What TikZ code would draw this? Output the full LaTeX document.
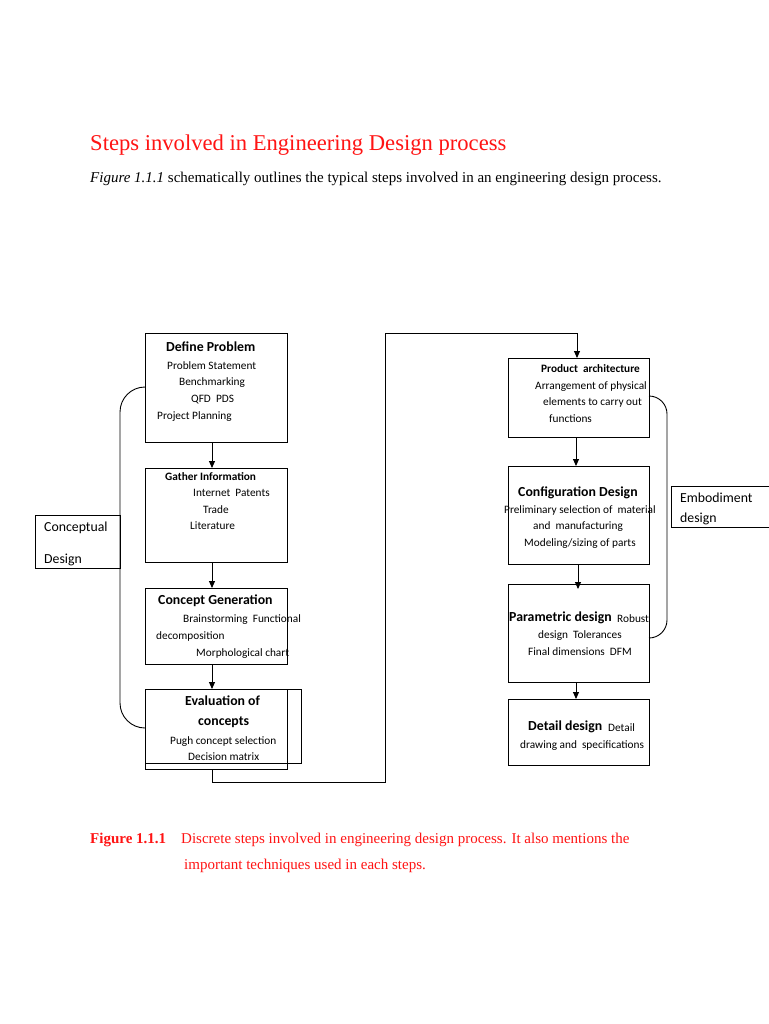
\documentclass[tikz,border=0pt]{standalone}
\usepackage{fontspec}
\setmainfont{Liberation Serif}
\newfontfamily\calf{Carlito}
\usetikzlibrary{arrows.meta}
\definecolor{capred}{RGB}{255,20,20}
\begin{document}
\begin{tikzpicture}[x=1pt,y=-1pt,
  box/.style={draw, line width=0.9pt, inner sep=0pt, anchor=north west},
  tx/.style={font=\calf\fontsize{11.3}{13}\selectfont, inner sep=0pt, anchor=west, text height=8pt, text depth=2pt},
  hd/.style={tx, font=\calf\bfseries\fontsize{13.8}{16}\selectfont, text height=9.8pt, text depth=2.8pt},
  hds/.style={tx, font=\calf\bfseries\fontsize{11.3}{13}\selectfont, text height=8pt, text depth=2pt},
  lab/.style={tx, font=\calf\fontsize{13.8}{16}\selectfont, text height=9.8pt, text depth=3pt},
  arr/.style={line width=0.9pt, -{Triangle[length=7pt,width=6pt]}},
  ln/.style={line width=0.9pt},
  serif/.style={inner sep=0pt, anchor=base west}]
\useasboundingbox[fill=white] (0,0) rectangle (768,1024);

% title and text
\node[serif, text=capred, font=\fontsize{22.6}{26}\selectfont] (title) at (90,151) {Steps involved in Engineering Design process};
\node[serif, font=\fontsize{15}{18}\selectfont] (intro) at (90,183) {\textit{Figure 1.1.1} schematically outlines the typical steps involved in an engineering design process.};
\node[serif, text=capred, font=\fontsize{15}{18}\selectfont\bfseries] (capA) at (90,843) {Figure 1.1.1};
\node[serif, text=capred, font=\fontsize{15}{18}\selectfont] (capB) at (181,843) {Discrete steps involved in engineering design process. It also mentions the};
\node[serif, text=capred, font=\fontsize{15}{18}\selectfont] (capC) at (184,869) {important techniques used in each steps.};

% left column boxes
\node[box, minimum width=142, minimum height=109] (dp) at (145,333) {};
\node[box, minimum width=142, minimum height=94] (gi) at (145,468) {};
\node[box, minimum width=142, minimum height=76] (cg) at (145,588) {};
\node[box, minimum width=142, minimum height=80] (ev) at (145,689) {};
\node[box, minimum width=156, minimum height=74] (ev2) at (145,689) {};

% right column boxes
\node[box, minimum width=141, minimum height=79] (pa) at (508,358) {};
\node[box, minimum width=141, minimum height=98] (cd) at (508,466) {};
\node[box, minimum width=141, minimum height=98] (pd) at (508,584) {};
\node[box, minimum width=141, minimum height=66] (dd) at (508,699) {};

% side labels
\node[box, minimum width=85, minimum height=53] (cbox) at (35,515) {};
\node[lab] (c1) at (44,528) {Conceptual};
\node[lab] (c2) at (44,560) {Design};
\draw[ln] (775,486) -- (671,486) -- (671,527) -- (775,527);
\node[lab] (e1) at (680,499) {Embodiment};
\node[lab] (e2) at (680,519) {design};

% texts: define problem
\node[hd] (t1) at (166,348) {Define Problem};
\node[tx] (t2) at (167,366) {Problem Statement};
\node[tx] (t3) at (179,382) {Benchmarking};
\node[tx] (t4) at (191,399) {QFD\ \ PDS};
\node[tx] (t5) at (157,416) {Project Planning};
% gather information
\node[hds] (g1) at (165,477) {Gather Information};
\node[tx] (g2) at (193,493) {Internet\ \ Patents};
\node[tx] (g3) at (203,510) {Trade};
\node[tx] (g4) at (190,526) {Literature};
% concept generation
\node[hd] (k1) at (158,601) {Concept Generation};
\node[tx] (k2) at (183,619) {Brainstorming\ \ Functional};
\node[tx] (k3) at (156,636) {decomposition};
\node[tx] (k4) at (196,653) {Morphological chart};
% evaluation
\node[hd] (v1) at (185,702) {Evaluation of};
\node[hd] (v2) at (198,722) {concepts};
\node[tx] (v3) at (170,741) {Pugh concept selection};
\node[tx] (v4) at (188,757) {Decision matrix};
% product architecture
\node[hds] (p1) at (541,369) {Product\ \ architecture};
\node[tx] (p2) at (535,386) {Arrangement of physical};
\node[tx] (p3) at (543,402) {elements to carry out};
\node[tx] (p4) at (549,419) {functions};
% configuration design
\node[hd] (f1) at (518,493) {Configuration Design};
\node[tx] (f2) at (504,510) {Preliminary selection of\ \ material};
\node[tx] (f3) at (533,526) {and\ \ manufacturing};
\node[tx] (f4) at (524,543) {Modeling/sizing of parts};
% parametric design
\node[hd] (m1) at (509,618) {Parametric design};
\node[tx] (m1b) at (617,619) {Robust};
\node[tx] (m2) at (538,635) {design\ \ Tolerances};
\node[tx] (m3) at (528,652) {Final dimensions\ \ DFM};
% detail design
\node[hd] (d1) at (528,727) {Detail design};
\node[tx] (d1b) at (608,728) {Detail};
\node[tx] (d2) at (520,745) {drawing and\ \ specifications};

% arrows
\draw[arr] (212,0 |- dp.south) -- (212,0 |- gi.north);
\draw[arr] (212,0 |- gi.south) -- (212,0 |- cg.north);
\draw[arr] (212,0 |- cg.south) -- (212,0 |- ev.north);
\draw[arr] (576,0 |- pa.south) -- (576,0 |- cd.north);
\draw[arr] (578,0 |- cd.south) -- (578,589);
\draw[arr] (576,0 |- pd.south) -- (576,0 |- dd.north);
\coordinate (b1) at (212,782);
\coordinate (b2) at (385,782);
\coordinate (b3) at (385,333);
\coordinate (b4) at (577,333);
\draw[arr] (212,0 |- ev.south) -- (b1) -- (b2) -- (b3) -- (b4) -- (577,0 |- pa.north);

% brackets
\draw[ln, rounded corners=25pt] (145,387) -- (120,387) -- (120,728) -- (145,728);
\draw[ln, rounded corners=18pt] (649,396) -- (667,396) -- (667,638) -- (649,638);
\end{tikzpicture}
\end{document}
